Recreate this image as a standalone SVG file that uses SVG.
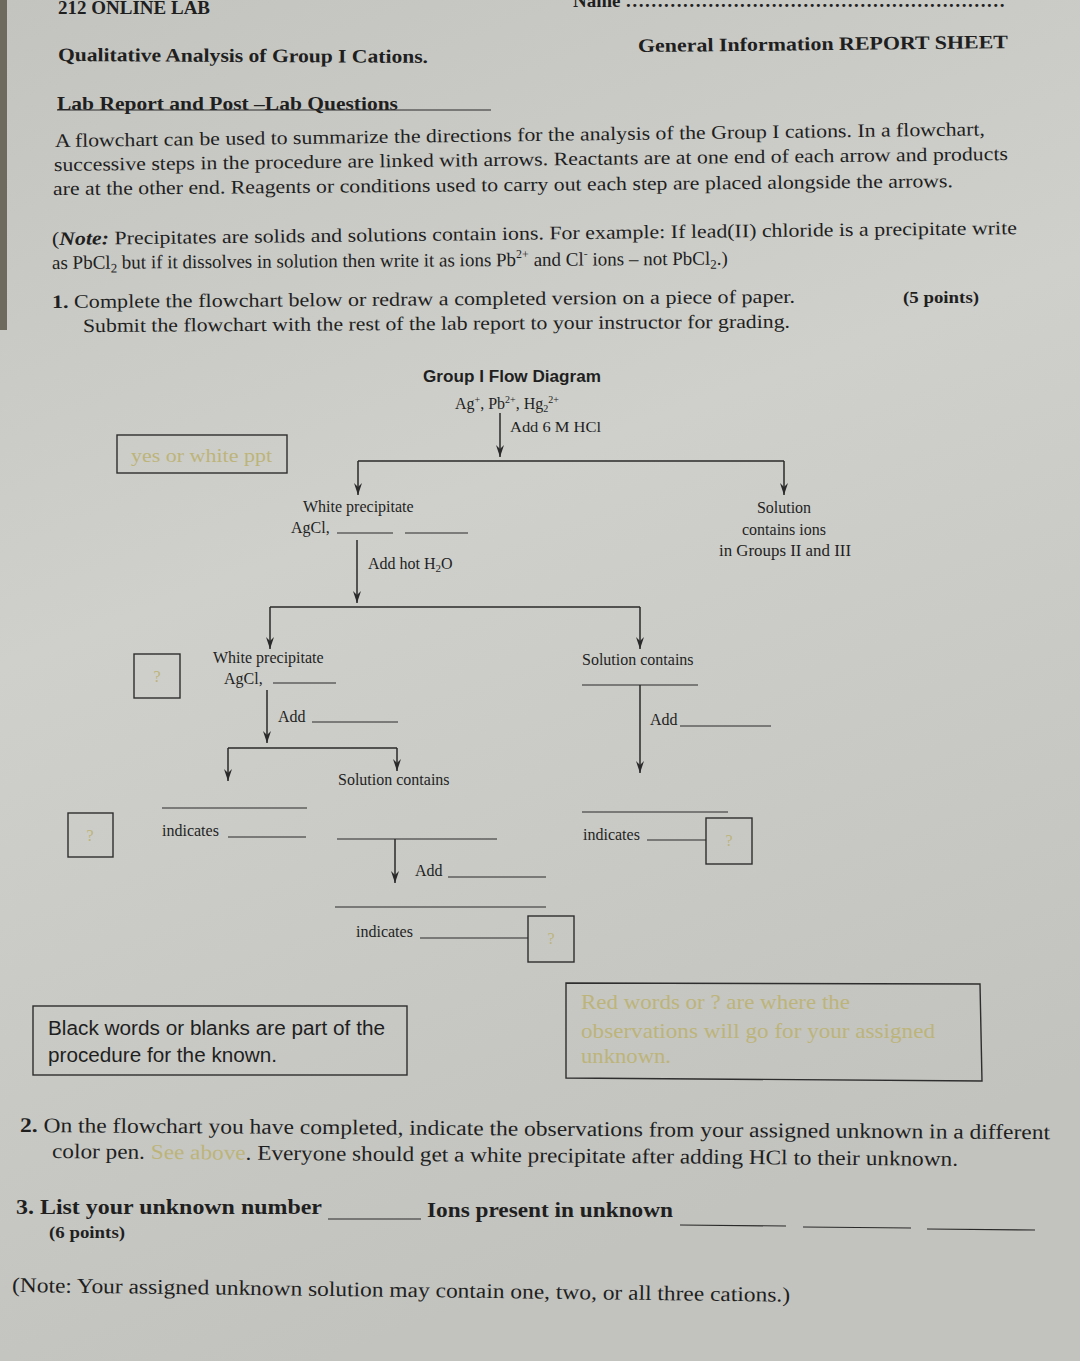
<svg xmlns="http://www.w3.org/2000/svg" width="1080" height="1361" viewBox="0 0 1080 1361">
<defs>
<linearGradient id="bg" x1="0" y1="0" x2="0.3" y2="1">
<stop offset="0" stop-color="#c3c4bf"/>
<stop offset="0.45" stop-color="#cfd0cb"/>
<stop offset="1" stop-color="#c2c3be"/>
</linearGradient>
<marker id="ah" viewBox="0 0 12 8" refX="12" refY="4" markerWidth="12" markerHeight="8" orient="auto" markerUnits="userSpaceOnUse">
<path d="M0,0 L12,4 L0,8 L4,4 z" fill="#2a2a2a"/>
</marker>
<style>
text{fill:#1f1f1f;font-family:"Liberation Serif","Times New Roman",serif}
.hb{font-weight:bold;font-size:19px}
.p{font-size:19px}
.fc{font-size:16px}
.faint{fill:#bdb47a}
.ln{stroke:#2a2a2a;stroke-width:1.5;fill:none}
.bl{stroke:#2a2a2a;stroke-width:1.2;fill:none}
.bx{stroke:#2e2e2e;stroke-width:1.4;fill:none}
.ar{stroke:#2a2a2a;stroke-width:1.5;fill:none;marker-end:url(#ah)}
.sans{font-family:"Liberation Sans",Arial,sans-serif}
</style>
</defs>
<rect x="0" y="0" width="1080" height="1361" fill="url(#bg)"/>
<rect x="0" y="0" width="7" height="330" fill="#6e6a5e"/>

<g id="header">
<text x="58" y="14" class="hb" font-size="20">212 ONLINE LAB</text>
<text x="573" y="7" class="hb" font-size="19">Name ……………………………………………………</text>
<text x="58" y="61" class="hb" textLength="370" lengthAdjust="spacingAndGlyphs" transform="rotate(0.3 58 61)">Qualitative Analysis of Group I Cations.</text>
<text x="638" y="52" class="hb" textLength="370" lengthAdjust="spacingAndGlyphs" transform="rotate(-0.6 638 52)">General Information REPORT SHEET</text>
<text x="57" y="110" class="hb" textLength="341" lengthAdjust="spacingAndGlyphs">Lab Report and Post –Lab Questions</text>
<line x1="57" y1="110" x2="491" y2="110" class="bl" stroke-width="1.6"/>
</g>

<g id="intro">
<text x="55" y="147" class="p" textLength="930" lengthAdjust="spacingAndGlyphs" transform="rotate(-0.72 55 147)">A flowchart can be used to summarize the directions for the analysis of the Group I cations. In a flowchart,</text>
<text x="54" y="171" class="p" textLength="954" lengthAdjust="spacingAndGlyphs" transform="rotate(-0.66 54 171)">successive steps in the procedure are linked with arrows. Reactants are at one end of each arrow and products</text>
<text x="53" y="195" class="p" textLength="900" lengthAdjust="spacingAndGlyphs" transform="rotate(-0.5 53 195)">are at the other end. Reagents or conditions used to carry out each step are placed alongside the arrows.</text>
<text x="52" y="245" class="p" textLength="965" lengthAdjust="spacingAndGlyphs" transform="rotate(-0.65 52 245)">(<tspan font-weight="bold" font-style="italic">Note:</tspan> Precipitates are solids and solutions contain ions. For example: If lead(II) chloride is a precipitate write</text>
<text x="52" y="269" class="p" transform="rotate(-0.37 52 269)">as PbCl<tspan font-size="13" dy="4">2</tspan><tspan dy="-4"> but if it dissolves in solution then write it as ions Pb</tspan><tspan font-size="12" dy="-8">2+</tspan><tspan dy="8"> and Cl</tspan><tspan font-size="12" dy="-8">-</tspan><tspan dy="8"> ions – not PbCl</tspan><tspan font-size="13" dy="4">2</tspan><tspan dy="-4">.)</tspan></text>
<text x="52" y="308" class="p" textLength="743" lengthAdjust="spacingAndGlyphs" transform="rotate(-0.4 52 308)"><tspan font-weight="bold">1.</tspan>  Complete the flowchart below or redraw a completed version on a piece of paper.</text>
<text x="903" y="303" font-weight="bold" font-size="16" textLength="76" lengthAdjust="spacingAndGlyphs">(5 points)</text>
<text x="83" y="332" class="p" textLength="707" lengthAdjust="spacingAndGlyphs" transform="rotate(-0.35 83 332)">Submit the flowchart with the rest of the lab report to your instructor for grading.</text>
</g>

<g id="connectors">
<line x1="500" y1="413" x2="500" y2="457" class="ar"/>
<line x1="358" y1="461" x2="784" y2="461" class="ln"/>
<line x1="358" y1="461" x2="358" y2="495" class="ar"/>
<line x1="784" y1="461" x2="784" y2="495" class="ar"/>
<line x1="357" y1="540" x2="357" y2="603" class="ar"/>
<line x1="270" y1="607" x2="640" y2="607" class="ln"/>
<line x1="270" y1="607" x2="270" y2="649" class="ar"/>
<line x1="640" y1="607" x2="640" y2="649" class="ar"/>
<line x1="267" y1="690" x2="267" y2="743" class="ar"/>
<line x1="228" y1="748" x2="397" y2="748" class="ln"/>
<line x1="228" y1="748" x2="228" y2="781" class="ar"/>
<line x1="397" y1="748" x2="397" y2="771" class="ar"/>
<line x1="395" y1="839" x2="395" y2="883" class="ar"/>
<line x1="640" y1="685" x2="640" y2="773" class="ar"/>
</g>

<g id="title">
<text x="423" y="382" class="sans" font-weight="bold" font-size="16" textLength="178" lengthAdjust="spacingAndGlyphs">Group I Flow Diagram</text>
</g>

<g id="start">
<text x="455" y="409" font-size="16">Ag<tspan font-size="10" dy="-6">+</tspan><tspan dy="6">, Pb</tspan><tspan font-size="10" dy="-6">2+</tspan><tspan dy="6">, Hg</tspan><tspan font-size="10" dy="3">2</tspan><tspan font-size="10" dy="-9">2+</tspan></text>
<text x="510" y="432" font-size="15" textLength="91" lengthAdjust="spacingAndGlyphs">Add 6 M HCl</text>
</g>

<g id="yes-box">
<rect x="117" y="435" width="170" height="38" class="bx"/>
<text x="131" y="462" font-size="19" class="faint" textLength="141" lengthAdjust="spacingAndGlyphs">yes or white ppt</text>
</g>

<g id="ppt1">
<text x="303" y="512" class="fc">White precipitate</text>
<text x="291" y="533" class="fc">AgCl,</text>
<line x1="337" y1="533" x2="393" y2="533" class="bl"/>
<line x1="405" y1="533" x2="468" y2="533" class="bl"/>
<text x="368" y="569" class="fc">Add hot H<tspan font-size="11" dy="3">2</tspan><tspan dy="-3">O</tspan></text>
</g>

<g id="sol-groups">
<text x="784" y="513" class="fc" text-anchor="middle">Solution</text>
<text x="784" y="535" class="fc" text-anchor="middle">contains ions</text>
<text x="785" y="556" class="fc" text-anchor="middle" textLength="132" lengthAdjust="spacingAndGlyphs">in Groups II and III</text>
</g>

<g id="q-box1">
<rect x="134" y="654" width="46" height="44" class="bx"/>
<text x="157" y="682" font-size="16" text-anchor="middle" class="faint">?</text>
</g>

<g id="ppt2">
<text x="213" y="663" class="fc">White precipitate</text>
<text x="224" y="684" class="fc">AgCl,</text>
<line x1="273" y1="683" x2="336" y2="683" class="bl"/>
<text x="278" y="722" class="fc">Add</text>
<line x1="312" y1="722" x2="398" y2="722" class="bl"/>
</g>

<g id="left-result">
<line x1="162" y1="808" x2="307" y2="808" class="bl"/>
<text x="162" y="836" class="fc">indicates</text>
<line x1="228" y1="837" x2="306" y2="837" class="bl"/>
</g>

<g id="q-box2">
<rect x="68" y="813" width="45" height="44" class="bx"/>
<text x="90" y="841" font-size="16" text-anchor="middle" class="faint">?</text>
</g>

<g id="sol-mid">
<text x="338" y="785" class="fc">Solution contains</text>
<line x1="337" y1="839" x2="497" y2="839" class="bl"/>
<text x="415" y="876" class="fc">Add</text>
<line x1="448" y1="877" x2="546" y2="877" class="bl"/>
<line x1="335" y1="907" x2="546" y2="907" class="bl"/>
<text x="356" y="937" class="fc">indicates</text>
<line x1="420" y1="938" x2="528" y2="938" class="bl"/>
</g>

<g id="q-box3">
<rect x="528" y="916" width="46" height="46" class="bx"/>
<text x="551" y="944" font-size="16" text-anchor="middle" class="faint">?</text>
</g>

<g id="sol-right">
<text x="582" y="665" class="fc">Solution contains</text>
<line x1="582" y1="685" x2="698" y2="685" class="bl"/>
<text x="650" y="725" class="fc">Add</text>
<line x1="680" y1="726" x2="771" y2="726" class="bl"/>
<line x1="582" y1="812" x2="728" y2="812" class="bl"/>
<text x="583" y="840" class="fc">indicates</text>
<line x1="647" y1="840" x2="706" y2="840" class="bl"/>
</g>

<g id="q-box4">
<rect x="706" y="818" width="46" height="46" class="bx"/>
<text x="729" y="846" font-size="16" text-anchor="middle" class="faint">?</text>
</g>

<g id="legend-black">
<rect x="33" y="1006" width="374" height="69" class="bx"/>
<text x="48" y="1035" class="sans" font-size="20" textLength="337" lengthAdjust="spacingAndGlyphs">Black words or blanks are part of the</text>
<text x="48" y="1062" class="sans" font-size="20" textLength="229" lengthAdjust="spacingAndGlyphs">procedure for the known.</text>
</g>

<g id="legend-red">
<polygon points="566,983 980,984 982,1081 566,1078" class="bx"/>
<text x="581" y="1009" font-size="21" class="faint" textLength="269" lengthAdjust="spacingAndGlyphs">Red words or ? are where the</text>
<text x="581" y="1038" font-size="21" class="faint" textLength="354" lengthAdjust="spacingAndGlyphs">observations will go for your assigned</text>
<text x="581" y="1063" font-size="21" class="faint" textLength="90" lengthAdjust="spacingAndGlyphs">unknown.</text>
</g>

<g id="questions">
<text x="20" y="1132" font-size="21" textLength="1030" lengthAdjust="spacingAndGlyphs" transform="rotate(0.4 20 1132)"><tspan font-weight="bold">2.</tspan>  On the flowchart you have completed, indicate the observations from your assigned unknown in a different</text>
<text x="52" y="1158" font-size="21" textLength="906" lengthAdjust="spacingAndGlyphs" transform="rotate(0.5 52 1158)">color pen. <tspan class="faint">See above</tspan>. Everyone should get a white precipitate after adding HCl to their unknown.</text>
<text x="16" y="1214" font-size="21" font-weight="bold" textLength="306" lengthAdjust="spacingAndGlyphs">3.  List your unknown number</text>
<line x1="328" y1="1219" x2="421" y2="1219" class="bl"/>
<text x="427" y="1217" font-size="21" font-weight="bold" textLength="246" lengthAdjust="spacingAndGlyphs">Ions present in unknown</text>
<line x1="680" y1="1225" x2="786" y2="1226" class="bl"/>
<line x1="803" y1="1227" x2="911" y2="1228" class="bl"/>
<line x1="927" y1="1229" x2="1035" y2="1230" class="bl"/>
<text x="49" y="1238" font-size="16" font-weight="bold" textLength="76" lengthAdjust="spacingAndGlyphs">(6 points)</text>
<text x="12" y="1292" font-size="21" textLength="778" lengthAdjust="spacingAndGlyphs" transform="rotate(0.72 12 1292)">(Note: Your assigned unknown solution may contain one, two, or all three cations.)</text>
</g>
</svg>
